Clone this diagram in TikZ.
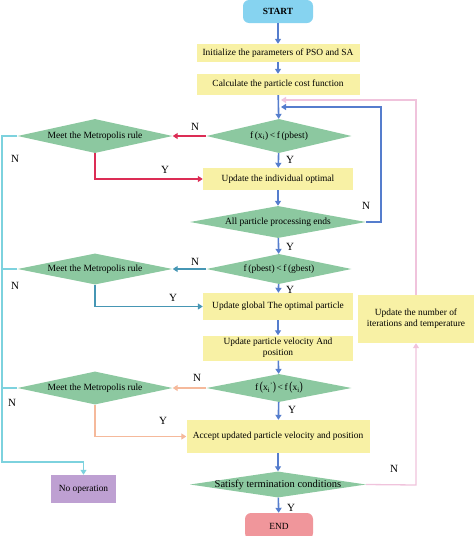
\documentclass[tikz,border=0pt]{standalone}
\usepackage{fontspec}
\setmainfont{Liberation Serif}
\usetikzlibrary{shapes.geometric,arrows.meta}
\definecolor{cstart}{RGB}{134,211,240}
\definecolor{cend}{RGB}{240,150,155}
\definecolor{cyel}{RGB}{248,241,165}
\definecolor{cgreen}{RGB}{140,200,160}
\definecolor{cpurp}{RGB}{190,160,210}
\definecolor{cblue}{RGB}{85,125,205}
\definecolor{cred}{RGB}{220,45,85}
\definecolor{cteal}{RGB}{70,150,180}
\definecolor{cpeach}{RGB}{245,185,155}
\definecolor{cpink}{RGB}{240,195,220}
\definecolor{ccyan}{RGB}{125,210,222}
\tikzset{
  x=1pt,y=-1pt,
  txt/.style={font=\fontsize{9.4}{11}\selectfont},
  term/.style={txt,rounded corners=6pt,inner sep=0pt},
  box/.style={txt,fill=cyel,inner sep=0pt,align=center},
  dia/.style={diamond,fill=cgreen,inner sep=0pt,aspect=4},
  lab/.style={font=\fontsize{11}{12}\selectfont,inner sep=0pt},
  tip/.style={-{Triangle[length=5pt,width=6pt]}},
  flow/.style={draw=cblue,line width=1.6pt,tip},
}
\newcommand{\dtext}[1]{\fontsize{9.5}{11}\selectfont #1}
\begin{document}
\begin{tikzpicture}
\useasboundingbox (0,0) rectangle (474,536);
% nodes
\node[term,fill=cstart,minimum width=70pt,minimum height=23pt] (start) at (278,11.5) {\bfseries START};
\node[box,minimum width=163pt,minimum height=18pt] (init) at (278,53) {Initialize the parameters of PSO and SA};
\node[box,minimum width=163pt,minimum height=21pt] (calc) at (278,84.5) {Calculate the particle cost function};
\node[dia,minimum width=145pt,minimum height=34pt,label={center:\dtext{f\,(x\textsubscript{i})\,<\,f\,(pbest)}}] (d1) at (279,136) {};
\node[dia,minimum width=155pt,minimum height=34pt,label={center:\dtext{Meet the Metropolis rule}}] (m1) at (95,136) {};
\node[box,minimum width=150pt,minimum height=22pt] (upd1) at (278,179) {Update the individual optimal};
\node[dia,minimum width=176pt,minimum height=32pt,label={center:\dtext{All particle processing ends}}] (dall) at (278,222) {};
\node[dia,minimum width=145pt,minimum height=30pt,label={center:\dtext{f\,(pbest)\,<\,f\,(gbest)}}] (d2) at (279,269) {};
\node[dia,minimum width=155pt,minimum height=31pt,label={center:\dtext{Meet the Metropolis rule}}] (m2) at (95,269) {};
\node[box,minimum width=150pt,minimum height=27pt] (updg) at (278,306.5) {Update global The optimal particle};
\node[box,minimum width=150pt,minimum height=25pt] (updv) at (278,348) {Update particle velocity And\\position};
\node[dia,minimum width=145pt,minimum height=28pt,label={center:\dtext{f\,\scalebox{1}[1.3]{(}x\textsubscript{i}\textsuperscript{'}\scalebox{1}[1.3]{)}\,<\,f\,\scalebox{1}[1.3]{(}x\textsubscript{i}\scalebox{1}[1.3]{)}}}] (d3) at (279,388) {};
\node[dia,minimum width=155pt,minimum height=33pt,label={center:\dtext{Meet the Metropolis rule}}] (m3) at (95,388) {};
\node[box,minimum width=183pt,minimum height=33pt] (acc) at (278,436.5) {Accept updated particle velocity and position};
\node[dia,minimum width=176pt,minimum height=26pt,label={center:{\fontsize{10.5}{12}\selectfont Satisfy termination conditions}}] (sat) at (278,484.5) {};
\node[term,fill=cend,minimum width=68pt,minimum height=26pt] (end) at (279,526) {END};
\node[txt,fill=cpurp,minimum width=65pt,minimum height=28pt,inner sep=0pt] (noop) at (83.5,489) {No operation};
\node[box,minimum width=116pt,minimum height=48pt] (updn) at (416,319) {Update the number of\\iterations and temperature};
\coordinate (bl1) at (381,222);
\coordinate (bl2) at (381,107);
\coordinate (bl3) at (281,107);
\coordinate (pk1) at (416,485);
\coordinate (pk2) at (416,100);
\coordinate (pk3) at (281,100);
\coordinate (cy0) at (2,136);
\coordinate (cy1) at (2,462);
\coordinate (cy2) at (83.5,462);
% main flow
\draw[flow] (start) -- (init);
\draw[flow] (init) -- (calc);
\draw[flow] (calc) -- (d1);
\draw[flow] (d1) -- (upd1);
\draw[flow] (upd1) -- (dall);
\draw[flow] (dall) -- (d2);
\draw[flow] (d2) -- (updg);
\draw[flow] (updg) -- (updv);
\draw[flow] (updv) -- (d3);
\draw[flow] (d3) -- (acc);
\draw[flow] (acc) -- (sat);
\draw[flow] (sat) -- (end);
% blue loop
\draw[draw=cblue,line width=1.3pt,tip] (dall.east) -- (bl1) -- (bl2) -- (bl3);
% pink loop
\draw[draw=cpink,line width=1.3pt,tip] (sat.east) -- (pk1) -- (updn.south);
\draw[draw=cpink,line width=1.3pt,tip] (updn.north) -- (pk2) -- (pk3);
% red
\draw[draw=cred,line width=1.6pt,tip] (d1.west) -- (m1.east);
\draw[draw=cred,line width=1.3pt,tip] (m1.south) |- (upd1.west);
% teal
\draw[draw=cteal,line width=1.6pt,tip] (d2.west) -- (m2.east);
\draw[draw=cteal,line width=1.3pt,tip] (m2.south) |- (updg.west);
% peach
\draw[draw=cpeach,line width=1.6pt,tip] (d3.west) -- (m3.east);
\draw[draw=cpeach,line width=1.3pt,tip] (m3.south) |- (acc.west);
% cyan
\draw[draw=ccyan,line width=1.2pt] (m1.west) -- (cy0) -- (cy1) -- (cy2);
\draw[draw=ccyan,line width=1.2pt,tip] (cy2) -- (noop.north);
\draw[draw=ccyan,line width=1.2pt] (m2.west) -- (m2.west -| cy0);
\draw[draw=ccyan,line width=1.2pt] (m3.west) -- (m3.west -| cy0);
% labels
\node[lab] (n1) at (195,127) {N};
\node[lab] (y1) at (165,169.5) {Y};
\node[lab] (y2) at (290,160) {Y};
\node[lab] (n2) at (366,206) {N};
\node[lab] (y3) at (290,247) {Y};
\node[lab] (n3) at (195,262) {N};
\node[lab] (y4) at (173,298) {Y};
\node[lab] (y5) at (290,290) {Y};
\node[lab] (n4) at (197,378) {N};
\node[lab] (y6) at (292,410) {Y};
\node[lab] (y7) at (163,421) {Y};
\node[lab] (n5) at (394,469) {N};
\node[lab] (y8) at (291,508) {Y};
\node[lab] (n6) at (15,159) {N};
\node[lab] (n7) at (15,286) {N};
\node[lab] (n8) at (12,403) {N};
\end{tikzpicture}
\end{document}
